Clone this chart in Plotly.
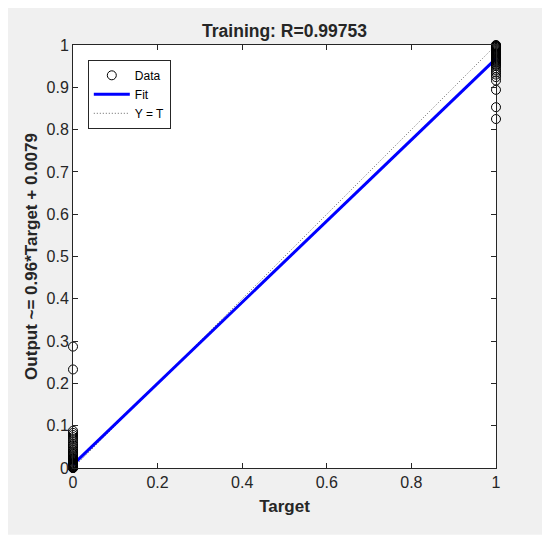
import plotly.graph_objects as go

# data
target_zero = [0] * 40
output_zero = [0.287, 0.233, 0.088, 0.083, 0.078, 0.073, 0.068, 0.063, 0.058, 0.054,
               0.050, 0.046, 0.042, 0.039, 0.036, 0.033, 0.030, 0.027, 0.024, 0.022,
               0.020, 0.018, 0.016, 0.014, 0.012, 0.011, 0.010, 0.009, 0.008, 0.007,
               0.006, 0.005, 0.004, 0.003, 0.002, 0.0015, 0.001, 0.0005, 0.0002, 0.0]
target_one = [1] * 36
output_one = [1.0, 0.999, 0.998, 0.997, 0.996, 0.995, 0.993, 0.991, 0.989, 0.987,
              0.985, 0.983, 0.981, 0.979, 0.977, 0.975, 0.973, 0.971, 0.969, 0.967,
              0.965, 0.963, 0.961, 0.959, 0.956, 0.953, 0.950, 0.945, 0.940, 0.935,
              0.930, 0.924, 0.916, 0.894, 0.853, 0.825]

fit_x = [0, 1]
fit_y = [0.0079, 0.9679]
ident_x = [0, 1]
ident_y = [0, 1]

x_ticks = [0, 0.2, 0.4, 0.6, 0.8, 1]
y_ticks = [0, 0.1, 0.2, 0.3, 0.4, 0.5, 0.6, 0.7, 0.8, 0.9, 1]

FONT = 'Liberation Sans, Arial, sans-serif'
INK = '#262626'

fig = go.Figure()

fig.add_trace(go.Scatter(
    x=ident_x, y=ident_y, name='Y = T', mode='lines',
    line=dict(color='#666666', width=1, dash='1px,2px'), legendrank=3,
))
fig.add_trace(go.Scatter(
    x=fit_x, y=fit_y, name='Fit', mode='lines',
    line=dict(color='#0000ff', width=3), legendrank=2,
))
fig.add_trace(go.Scatter(
    x=target_zero + target_one, y=output_zero + output_one,
    name='Data', mode='markers', cliponaxis=False,
    marker=dict(symbol='circle-open', size=9, color='black', line=dict(width=1)),
    legendrank=1,
))

# grey figure panel behind the axes, white plot box on top of it
fig.add_shape(type='rect', xref='paper', yref='paper', layer='below',
              x0=-0.156, x1=1.111, y0=-0.158, y1=1.095,
              fillcolor='#f0f0f0', line=dict(width=0))
fig.add_shape(type='rect', xref='paper', yref='paper', layer='below',
              x0=0, x1=1, y0=0, y1=1,
              fillcolor='white', line=dict(width=0))

axis_style = dict(
    range=[0, 1], showgrid=False, zeroline=False,
    showline=True, linecolor=INK, linewidth=1, mirror='ticks',
    ticks='inside', ticklen=5, tickcolor=INK,
    tickfont=dict(family=FONT, size=16, color=INK),
)

fig.update_layout(
    width=542, height=534,
    paper_bgcolor='white', plot_bgcolor='rgba(0,0,0,0)',
    margin=dict(l=65, r=54, t=37, b=74),
    font=dict(family=FONT, color=INK),
    title=dict(text='<b>Training: R=0.99753</b>', x=0.5, xref='paper', xanchor='center',
               y=0.957, yanchor='middle', font=dict(size=17.5, color=INK)),
    xaxis=dict(**axis_style, tickvals=x_ticks, ticktext=[str(v) for v in x_ticks],
               title=dict(text='<b>Target</b>', font=dict(size=17, color=INK), standoff=9)),
    yaxis=dict(**axis_style, tickvals=y_ticks, ticktext=[str(v) for v in y_ticks],
               title=dict(text='<b>Output ~= 0.96*Target + 0.0079</b>',
                          font=dict(size=17, color=INK), standoff=4)),
    showlegend=True,
    legend=dict(x=0.035, y=0.965, xanchor='left', yanchor='top',
                bgcolor='white', bordercolor=INK, borderwidth=1,
                font=dict(family=FONT, size=12, color='black'),
                tracegroupgap=0, itemwidth=36),
)

fig.write_html('out.html')
